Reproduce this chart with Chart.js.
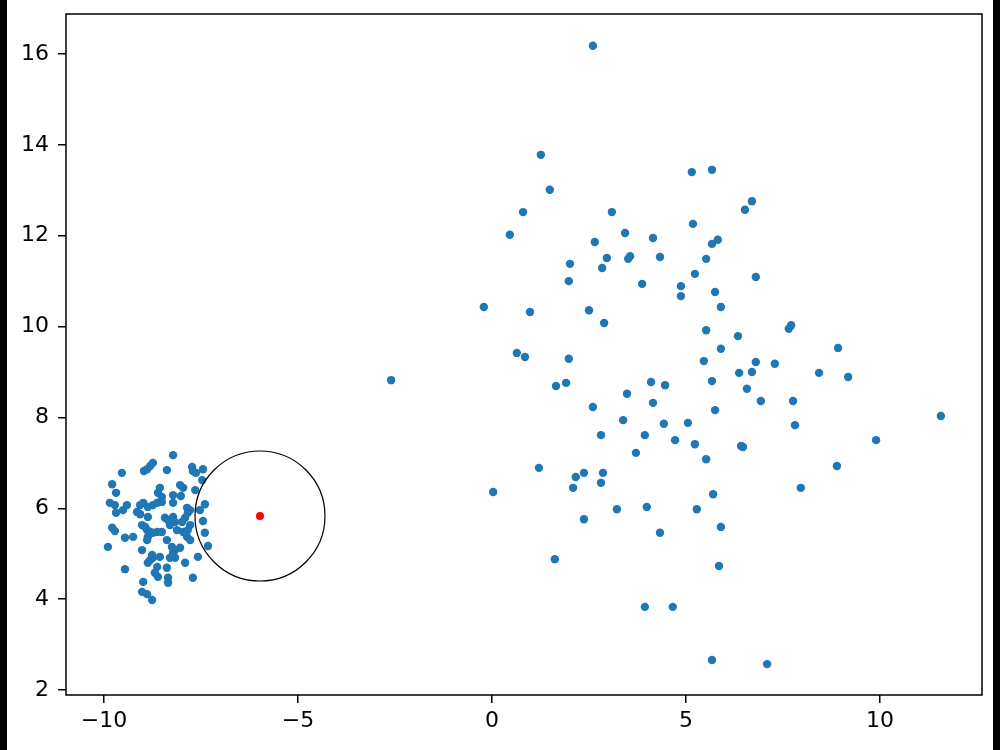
<!DOCTYPE html>
<html>
<head>
<meta charset="utf-8">
<script src="https://cdn.jsdelivr.net/npm/chart.js@4/dist/chart.umd.min.js"></script>
<style>
  body { margin: 0; background: #000; }
  canvas { display: block; }
</style>
</head>
<body>
<canvas id="myChart" width="1000" height="750"></canvas>
<script>
// left blob (tight cluster)
const leftX = [-8.22, -8.74, -8.81, -8.89, -8.97, -8.38, -9.54, -7.73, -7.71, -7.63, -7.45, -7.47, -9.79, -8.56, -8.04, -7.96,
  -9.69, -8.61, -8.51, -8.22, -8.02, -7.65, -7.40, -9.85, -9.72, -9.41, -9.51, -9.07, -8.99, -8.87, -8.74, -8.63, -8.51, -8.22,
  -9.69, -9.15, -9.07, -7.86, -7.78, -7.84, -7.53, -8.87, -8.43, -8.35, -8.22, -8.17, -7.99, -7.91, -7.78, -7.45, -9.02, -8.94,
  -8.30, -9.79, -9.72, -8.89, -8.81, -8.74, -8.63, -8.51, -8.12, -7.96, -7.84, -7.40, -9.90, -9.46, -9.25, -8.87, -8.89, -8.38,
  -7.86, -7.78, -7.32, -9.02, -8.25, -8.17, -8.22, -8.04, -8.76, -8.74, -8.81, -8.56, -8.30, -8.17, -7.91, -7.58, -8.87, -8.63,
  -8.38, -9.46, -8.69, -8.61, -8.35, -8.35, -7.71, -8.99, -9.02, -8.89, -8.76];
const leftY = [7.17, 7.00, 6.93, 6.86, 6.82, 6.84, 6.78, 6.91, 6.82, 6.78, 6.86, 6.62, 6.53, 6.45, 6.51, 6.45,
  6.34, 6.34, 6.25, 6.29, 6.27, 6.40, 6.09, 6.12, 6.07, 6.07, 5.96, 6.07, 6.12, 6.03, 6.07, 6.12, 6.14, 6.12,
  5.90, 5.92, 5.87, 6.01, 5.96, 5.90, 5.96, 5.81, 5.79, 5.74, 5.81, 5.70, 5.70, 5.79, 5.63, 5.72, 5.63, 5.59,
  5.63, 5.57, 5.50, 5.52, 5.48, 5.46, 5.48, 5.48, 5.52, 5.48, 5.52, 5.46, 5.15, 5.35, 5.37, 5.37, 5.30, 5.30,
  5.37, 5.30, 5.17, 5.08, 5.15, 5.08, 5.02, 5.13, 4.97, 4.91, 4.86, 4.93, 4.91, 4.91, 4.80, 4.93, 4.80, 4.71,
  4.69, 4.66, 4.58, 4.49, 4.47, 4.36, 4.47, 4.38, 4.16, 4.11, 3.98];

// right blob (wide cluster)
const rightX = [2.60, 1.26, 1.49, 0.80, 0.46, -0.21, 0.98, -2.60, 0.64, 0.85, 1.65, 1.91, 1.21, 0.03, 1.98, 2.01, 1.98,
  5.15, 5.67, 6.70, 6.52, 3.09, 5.18, 3.43, 2.65, 4.15, 5.82, 5.67, 2.96, 3.56, 3.51, 4.33, 5.52, 2.84, 6.80, 3.87,
  5.23, 4.87, 4.87, 5.75, 5.90, 2.50, 2.89, 5.52, 7.71, 7.65, 6.34, 5.90, 5.46, 6.80, 8.92, 6.37, 6.70, 7.29, 5.67,
  4.10, 4.46, 6.57, 8.43, 9.18, 3.48, 4.15, 6.93, 7.76, 2.60, 5.75, 3.38, 4.43, 5.05, 2.81, 3.94, 4.72, 5.23, 3.71,
  6.42, 6.47, 5.52, 7.81, 11.57, 9.90, 8.89, 7.96, 2.16, 2.37, 2.86, 2.81, 2.09, 5.70, 3.22, 3.99, 5.28, 2.37, 5.90,
  4.33, 1.62, 5.85, 3.94, 4.66, 5.67, 7.09];
const rightY = [16.18, 13.78, 13.01, 12.52, 12.02, 10.43, 10.32, 8.82, 9.42, 9.33, 8.69, 8.76, 6.89, 6.36, 9.29, 11.38, 11.00,
  13.40, 13.45, 12.76, 12.57, 12.52, 12.26, 12.06, 11.86, 11.95, 11.91, 11.82, 11.51, 11.55, 11.49, 11.53, 11.49, 11.29, 11.09, 10.94,
  11.16, 10.89, 10.67, 10.76, 10.43, 10.36, 10.08, 9.92, 10.03, 9.95, 9.79, 9.51, 9.24, 9.22, 9.53, 8.98, 9.00, 9.18, 8.80,
  8.78, 8.71, 8.63, 8.98, 8.89, 8.52, 8.32, 8.36, 8.36, 8.23, 8.16, 7.94, 7.86, 7.88, 7.61, 7.61, 7.50, 7.41, 7.22,
  7.37, 7.35, 7.08, 7.83, 8.03, 7.50, 6.93, 6.45, 6.69, 6.78, 6.78, 6.56, 6.45, 6.31, 5.98, 6.03, 5.98, 5.76, 5.59,
  5.46, 4.88, 4.73, 3.83, 3.83, 2.66, 2.57];

// red centre point + ring round it
const centerX = [-5.98];
const centerY = [5.83];

const xTicks = [-10, -5, 0, 5, 10];
const yTicks = [2, 4, 6, 8, 10, 12, 14, 16];

const toPoints = (xs, ys) => xs.map((x, i) => ({ x: x, y: ys[i] }));

// black side strips + white figure
const backdrop = {
  id: "backdrop",
  beforeDraw(chart) {
    const c = chart.ctx;
    c.save();
    c.fillStyle = "#000";
    c.fillRect(0, 0, chart.width, chart.height);
    c.fillStyle = "#fff";
    c.fillRect(7, 0, chart.width - 14, chart.height);
    c.restore();
  },
};

// full box round the plot area
const frame = {
  id: "frame",
  afterDraw(chart) {
    const a = chart.chartArea;
    const c = chart.ctx;
    c.save();
    c.strokeStyle = "#000";
    c.lineWidth = 1.5;
    c.strokeRect(a.left, a.top, a.right - a.left, a.bottom - a.top);
    c.restore();
  },
};

const tickFont = { family: "DejaVu Sans", size: 22 };
const minus = (v) => String(v).replace("-", "\u2212");

const ctx = document.getElementById("myChart").getContext("2d");
const myChart = new Chart(ctx, {
  type: "scatter",
  data: {
    datasets: [
      {
        data: toPoints(centerX, centerY),
        backgroundColor: "#ff0000",
        pointRadius: 4,
        borderWidth: 0,
        order: 1,
      },
      {
        data: toPoints(centerX, centerY),
        backgroundColor: "rgba(0,0,0,0)",
        borderColor: "#000",
        borderWidth: 1.2,
        pointRadius: 65,
        order: 2,
      },
      {
        data: toPoints(leftX, leftY).concat(toPoints(rightX, rightY)),
        backgroundColor: "#1f77b4",
        pointRadius: 4.2,
        borderWidth: 0,
        order: 3,
      },
    ],
  },
  options: {
    responsive: false,
    animation: false,
    devicePixelRatio: 1,
    layout: { autoPadding: false, padding: { top: 14, right: 18, left: 0, bottom: 0 } },
    plugins: { legend: { display: false }, tooltip: { enabled: false } },
    scales: {
      x: {
        type: "linear",
        min: -10.98,
        max: 12.63,
        afterBuildTicks: (scale) => { scale.ticks = xTicks.map((v) => ({ value: v })); },
        afterFit: (scale) => {
          scale.height = 55;
          scale.paddingLeft = 0;
          scale.paddingRight = 0;
        },
        grid: { drawOnChartArea: false, drawTicks: true, tickLength: 8, color: "#000", lineWidth: 1.5 },
        border: { display: false },
        ticks: { font: tickFont, color: "#000", padding: 5, maxRotation: 0, callback: minus },
      },
      y: {
        type: "linear",
        min: 1.89,
        max: 16.88,
        afterBuildTicks: (scale) => { scale.ticks = yTicks.map((v) => ({ value: v })); },
        afterFit: (scale) => {
          scale.width = 66;
          scale.paddingTop = 0;
          scale.paddingBottom = 0;
        },
        grid: { drawOnChartArea: false, drawTicks: true, tickLength: 8, color: "#000", lineWidth: 1.5 },
        border: { display: false },
        ticks: { font: tickFont, color: "#000", padding: 9, callback: minus },
      },
    },
  },
  plugins: [backdrop, frame],
});
</script>
</body>
</html>
